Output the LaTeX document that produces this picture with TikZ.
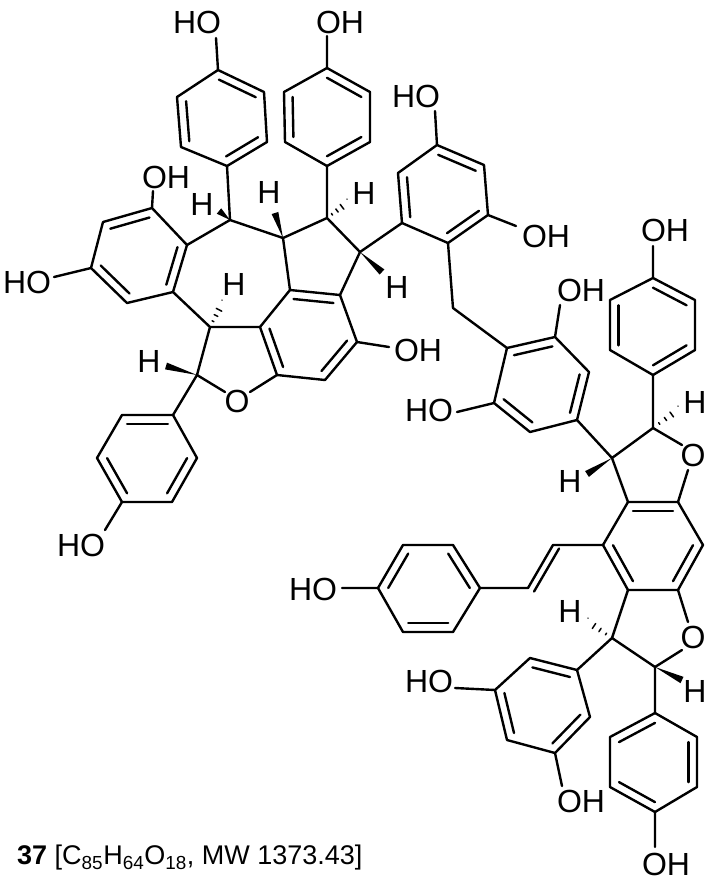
\documentclass[tikz,border=0pt]{standalone}
\usepackage{fontspec}
\setmainfont{Liberation Sans}
\usetikzlibrary{calc}
\newcommand\dbl[3]{\draw ($(#1)!0.2!(#3)$) -- ($(#2)!0.2!(#3)$);}
\newcommand\wdg[2]{\fill (#1) -- ($(#2)!3.5pt!90:(#1)$) -- ($(#2)!3.5pt!-90:(#1)$) -- cycle;}
\newcommand\hsh[2]{\foreach \t in {0.25,0.5,0.75,1.0}{\coordinate (hp) at ($(#1)!\t!(#2)$); \draw[line width=1.5pt] ($(hp)!{\t*4pt}!90:(#2)$) -- ($(hp)!{\t*4pt}!-90:(#2)$);}}
\tikzset{lbl/.style={inner sep=0pt,font=\fontsize{32}{34}\selectfont}}
\begin{document}
\begin{tikzpicture}[x=1pt,y=-1pt,line width=2.4pt,line cap=round,line join=round]
\useasboundingbox (0,0) rectangle (711,887);
% ring A
\coordinate (a1) at (218,70);\coordinate (a2) at (264,92);\coordinate (a3) at (267,142);
\coordinate (a4) at (227,166);\coordinate (a5) at (181,147);\coordinate (a6) at (177,97);
\coordinate (ac) at ($(a1)!0.5!(a4)$);
\draw (a1)--(a2)--(a3)--(a4)--(a5)--(a6)--cycle;
\dbl{a5}{a6}{ac}\dbl{a1}{a2}{ac}\dbl{a3}{a4}{ac}
% ring B
\coordinate (b1) at (327,68);\coordinate (b2) at (370,92);\coordinate (b3) at (370,142);
\coordinate (b4) at (327,166);\coordinate (b5) at (285,142);\coordinate (b6) at (284,92);
\coordinate (bc) at ($(b1)!0.5!(b4)$);
\draw (b1)--(b2)--(b3)--(b4)--(b5)--(b6)--cycle;
\dbl{b5}{b6}{bc}\dbl{b1}{b2}{bc}\dbl{b3}{b4}{bc}
% ring C
\coordinate (c1) at (152,208);\coordinate (c2) at (103,222);\coordinate (c3) at (91,268);
\coordinate (c4) at (127,303);\coordinate (c5) at (173,292);\coordinate (c6) at (187,245);
\coordinate (cc) at ($(c1)!0.5!(c4)$);
\draw (c1)--(c2)--(c3)--(c4)--(c5)--(c6)--cycle;
\dbl{c1}{c2}{cc}\dbl{c6}{c5}{cc}\dbl{c3}{c4}{cc}
% ring D
\coordinate (d1) at (173,415);\coordinate (d2) at (197,458);\coordinate (d3) at (172,502);
\coordinate (d4) at (122,502);\coordinate (d5) at (97,458);\coordinate (d6) at (122,415);
\coordinate (dc) at ($(d1)!0.5!(d4)$);
\draw (d1)--(d2)--(d3)--(d4)--(d5)--(d6)--cycle;
\dbl{d6}{d1}{dc}\dbl{d2}{d3}{dc}\dbl{d4}{d5}{dc}
% ring E
\coordinate (e1) at (290,290);\coordinate (e2) at (340,295);\coordinate (e3) at (357,342);
\coordinate (e4) at (325,380);\coordinate (e5) at (277,375);\coordinate (e6) at (260,327);
\coordinate (ec) at ($(e1)!0.5!(e4)$);
\draw (e1)--(e2)--(e3)--(e4)--(e5)--(e6)--cycle;
\dbl{e1}{e2}{ec}\dbl{e6}{e5}{ec}\dbl{e4}{e3}{ec}
% ring F
\coordinate (f1) at (402,223);\coordinate (f2) at (398,173);\coordinate (f3) at (437,145);
\coordinate (f4) at (484,165);\coordinate (f5) at (488,215);\coordinate (f6) at (448,243);
\coordinate (fc) at ($(f1)!0.5!(f4)$);
\draw (f1)--(f2)--(f3)--(f4)--(f5)--(f6)--cycle;
\dbl{f2}{f1}{fc}\dbl{f3}{f4}{fc}\dbl{f5}{f6}{fc}
% ring G
\coordinate (g1) at (507,348);\coordinate (g2) at (555,337);\coordinate (g3) at (589,372);
\coordinate (g4) at (577,420);\coordinate (g5) at (530,432);\coordinate (g6) at (494,403);
\coordinate (gc) at ($(g1)!0.5!(g4)$);
\draw (g1)--(g2)--(g3)--(g4)--(g5)--(g6)--cycle;
\dbl{g1}{g2}{gc}\dbl{g3}{g4}{gc}\dbl{g5}{g6}{gc}
% ring H
\coordinate (h1) at (653,278);\coordinate (h2) at (695,300);\coordinate (h3) at (695,350);
\coordinate (h4) at (653,375);\coordinate (h5) at (610,350);\coordinate (h6) at (610,300);
\coordinate (hc) at ($(h1)!0.5!(h4)$);
\draw (h1)--(h2)--(h3)--(h4)--(h5)--(h6)--cycle;
\dbl{h6}{h5}{hc}\dbl{h1}{h2}{hc}\dbl{h3}{h4}{hc}
% ring I
\coordinate (i1) at (628,502);\coordinate (i2) at (678,502);\coordinate (i3) at (703,545);
\coordinate (i4) at (678,590);\coordinate (i5) at (628,590);\coordinate (i6) at (603,545);
\coordinate (ic) at ($(i1)!0.5!(i4)$);
\draw (i1)--(i2)--(i3)--(i4)--(i5)--(i6)--cycle;
\dbl{i1}{i2}{ic}\dbl{i3}{i4}{ic}\dbl{i5}{i6}{ic}
% ring J
\coordinate (j1) at (480,588);\coordinate (j2) at (453,545);\coordinate (j3) at (403,545);
\coordinate (j4) at (378,588);\coordinate (j5) at (403,632);\coordinate (j6) at (453,632);
\coordinate (jc) at ($(j1)!0.5!(j4)$);
\draw (j1)--(j2)--(j3)--(j4)--(j5)--(j6)--cycle;
\dbl{j3}{j4}{jc}\dbl{j1}{j2}{jc}\dbl{j5}{j6}{jc}
% ring K
\coordinate (k1) at (577,670);\coordinate (k2) at (530,658);\coordinate (k3) at (495,690);
\coordinate (k4) at (507,740);\coordinate (k5) at (555,753);\coordinate (k6) at (590,717);
\coordinate (kc) at ($(k1)!0.5!(k4)$);
\draw (k1)--(k2)--(k3)--(k4)--(k5)--(k6)--cycle;
\dbl{k1}{k2}{kc}\dbl{k3}{k4}{kc}\dbl{k5}{k6}{kc}
% ring L
\coordinate (l1) at (655,713);\coordinate (l2) at (697,737);\coordinate (l3) at (697,787);
\coordinate (l4) at (655,812);\coordinate (l5) at (610,787);\coordinate (l6) at (610,737);
\coordinate (lc) at ($(l1)!0.5!(l4)$);
\draw (l1)--(l2)--(l3)--(l4)--(l5)--(l6)--cycle;
\dbl{l6}{l1}{lc}\dbl{l2}{l3}{lc}\dbl{l4}{l5}{lc}
% stereocentres
\coordinate (C1) at (230,220);\coordinate (C2) at (283,238);\coordinate (C3) at (327,218);
\coordinate (C4) at (210,327);\coordinate (C5) at (197,375);\coordinate (C6) at (360,252);
\coordinate (C7) at (612,458);\coordinate (C8) at (653,428);\coordinate (C9) at (612,638);
\coordinate (C10) at (655,667);\coordinate (CH2) at (453,308);
\coordinate (v1) at (553,545);\coordinate (v2) at (528,588);
% skeleton bonds
\draw (C1)--(a4) (C1)--(c6) (C1)--(C2)--(C3)--(b4) (C3)--(C6)--(e2) (C2)--(e1);
\draw (c5)--(C4)--(e6) (C4)--(C5)--(d1) (C6)--(f1) (f6)--(CH2)--(g1);
\draw (g4)--(C7)--(C8)--(h4) (C7)--(i1) (i6)--(v1)--(v2)--(j1);
\draw ($(v1)!7pt!90:(v2)$) -- ($(v2)!7pt!-90:(v1)$);
\draw (i5)--(C9)--(C10) (C9)--(k1) (C10)--(l1);
% labels
\node[lbl] (ohA) at (197,22) {HO};
\node[lbl] (ohB) at (340,22) {OH};
\node[lbl] (ohC1) at (166,177) {OH};
\node[lbl] (ohC2) at (27,282) {HO};
\node[lbl] (ohD) at (81,545) {HO};
\node[lbl] (o1) at (237,401) {O};
\node[lbl] (ohE) at (418,350) {OH};
\node[lbl] (ohF1) at (416,96) {HO};
\node[lbl] (ohF2) at (546,236) {OH};
\node[lbl] (ohG1) at (581,290) {OH};
\node[lbl] (ohG2) at (429,410) {HO};
\node[lbl] (ohH) at (665,230) {OH};
\node[lbl] (o2) at (693,455) {O};
\node[lbl] (ohJ) at (313,589) {HO};
\node[lbl] (o3) at (693,637) {O};
\node[lbl] (ohK1) at (429,681) {HO};
\node[lbl] (ohK2) at (581,801) {OH};
\node[lbl] (ohL) at (666,864) {OH};
\node[lbl] (H1) at (202,204) {H};
\node[lbl] (H2) at (269,192) {H};
\node[lbl] (H3) at (364,193) {H};
\node[lbl] (H4) at (234,284) {H};
\node[lbl] (H5) at (149,361) {H};
\node[lbl] (H6) at (397,287) {H};
\node[lbl] (H7) at (570,481) {H};
\node[lbl] (H8) at (695,402) {H};
\node[lbl] (H9) at (570,611) {H};
\node[lbl] (H10) at (695,691) {H};
% OH bonds
\draw (a1)--(216,38) (b1)--(327,36) (c1)--(153,191) (c3)--(54,277) (d4)--(105,530)
 (e3)--(389,347) (f3)--(435,111) (f5)--(516,226) (g2)--(560,305) (g6)--(457,412)
 (h1)--(653,246) (j4)--(342,588) (k3)--(455,688) (k5)--(562,786) (l4)--(655,847);
% ether O bonds
\draw (C5)--(225,392) (250,392)--(e5);
\draw (C8)--(682,445) (i2)--(688,470);
\draw (i4)--(688,622) (682,650)--(C10);
% wedges / hashes
\wdg{C1}{219,211}
\wdg{C2}{275,213}
\hsh{C3}{347,203}
\hsh{C4}{222,304}
\wdg{C5}{166,366}
\wdg{C6}{382,272}
\wdg{C7}{587,474}
\hsh{C8}{678,410}
\hsh{C9}{588,622}
\wdg{C10}{682,680}
\node[anchor=west,inner sep=0pt,font=\fontsize{27}{29}\selectfont] (cap) at (16,858)
 {\textbf{37} [C\textsubscript{85}H\textsubscript{64}O\textsubscript{18}, MW 1373.43]};
\end{tikzpicture}
\end{document}
